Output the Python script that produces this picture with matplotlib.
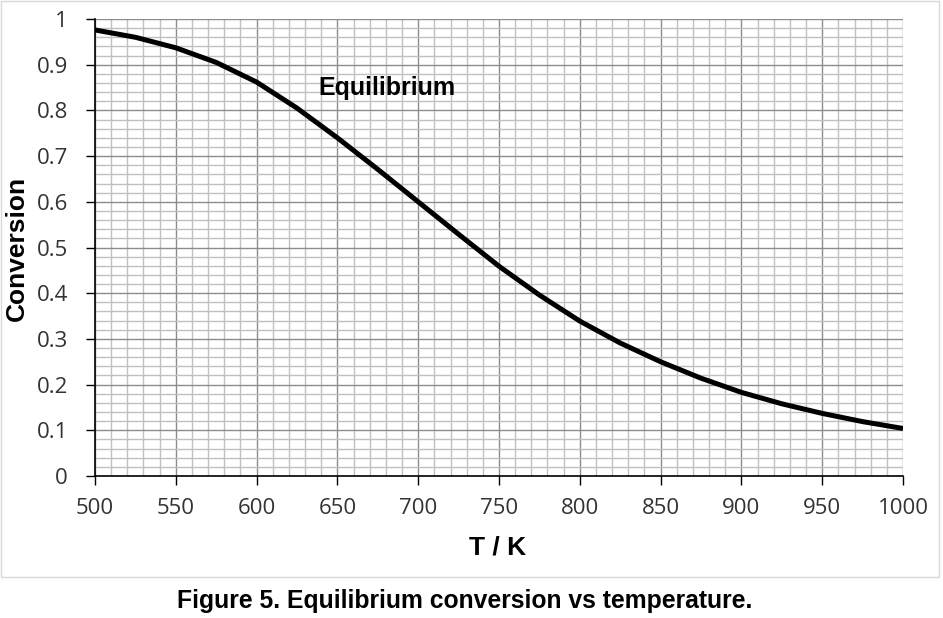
import matplotlib
matplotlib.use("Agg")
import matplotlib.pyplot as plt
from matplotlib.ticker import MultipleLocator, FuncFormatter
from matplotlib.patches import Rectangle

# Data
temperature_K = [500, 525, 550, 575, 600, 625, 650, 675, 700, 725, 750,
                 775, 800, 825, 850, 875, 900, 925, 950, 975, 1000]
conversion = [0.976, 0.960, 0.937, 0.905, 0.862, 0.805, 0.740, 0.671, 0.600, 0.529, 0.459,
              0.396, 0.339, 0.291, 0.250, 0.214, 0.183, 0.158, 0.137, 0.119, 0.104]
x_ticks = [500, 550, 600, 650, 700, 750, 800, 850, 900, 950, 1000]
y_ticks = [0, 0.1, 0.2, 0.3, 0.4, 0.5, 0.6, 0.7, 0.8, 0.9, 1]
curve_label = "Equilibrium"
x_title = "T / K"
y_title = "Conversion"
caption = "Figure 5. Equilibrium conversion vs temperature."

W, H = 943, 618
fig = plt.figure(figsize=(W / 100, H / 100), dpi=100)
fig.patch.set_facecolor("white")

# chart border
fig.patches.append(Rectangle((0.5 / W, 1 - 577 / H), 938 / W, 577 / H - 0.5 / H,
                             transform=fig.transFigure, fill=False,
                             edgecolor="#d9d9d9", linewidth=1.0))

left, right, top, bottom = 95, 903, 19, 476
ax = fig.add_axes([left / W, 1 - bottom / H, (right - left) / W, (bottom - top) / H])

ax.plot(temperature_K, conversion, color="black", linewidth=3.6,
        solid_capstyle="butt", solid_joinstyle="round", zorder=3)

ax.set_xlim(500, 1000)
ax.set_ylim(0, 1)
ax.set_xticks(x_ticks)
ax.set_yticks(y_ticks)
ax.xaxis.set_minor_locator(MultipleLocator(10))
ax.yaxis.set_minor_locator(MultipleLocator(0.02))
ax.yaxis.set_major_formatter(FuncFormatter(lambda v, p: f"{v:g}"))

ax.grid(which="major", color="#8c8c8c", linewidth=1.0, zorder=1)
ax.grid(which="minor", color="#c0c0c0", linewidth=1.0, zorder=0)
ax.set_axisbelow(True)

for s in ("top", "right"):
    ax.spines[s].set_visible(False)
for s in ("left", "bottom"):
    ax.spines[s].set_color("black")
    ax.spines[s].set_linewidth(1.2)
    ax.spines[s].set_zorder(4)

tick_font = "Open Sans"
ax.tick_params(which="major", direction="out", length=6.5, width=1.0, color="black",
               labelsize=16, labelcolor="#333333")
ax.tick_params(axis="y", which="major", pad=13)
ax.tick_params(axis="x", which="major", pad=9)
ax.tick_params(which="minor", length=0)
for lbl in ax.get_xticklabels() + ax.get_yticklabels():
    lbl.set_fontfamily(tick_font)

ax.set_xlabel(x_title, fontsize=19, fontweight="bold", family="Liberation Sans", va="center")
ax.xaxis.set_label_coords(0.4988, -0.1575)
ax.set_ylabel(y_title, fontsize=19, fontweight="bold", family="Liberation Sans", va="center")
ax.yaxis.set_label_coords(-0.0965, 0.497)

ax.text(638, 0.849, curve_label, fontsize=18, fontweight="bold",
        family="Liberation Sans", ha="left", va="center", zorder=5)

fig.text(465 / W, 1 - 601 / H, caption, fontsize=17.8, fontweight="bold",
         family="Liberation Sans", ha="center", va="center")

fig.savefig("out.png", dpi=100, facecolor="white")
